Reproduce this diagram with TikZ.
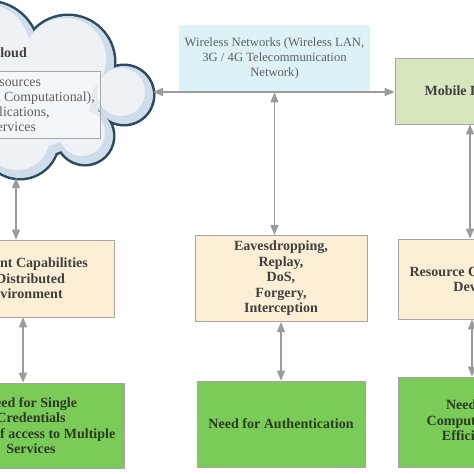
\documentclass[tikz,border=0pt]{standalone}
\usepackage{fontspec}
\setmainfont{Liberation Serif}
\usetikzlibrary{arrows.meta, positioning}
\definecolor{threatfill}{RGB}{252,239,213}
\definecolor{needfill}{RGB}{122,203,88}
\definecolor{devicefill}{RGB}{216,230,192}
\definecolor{netfill}{RGB}{221,242,247}
\definecolor{boxline}{RGB}{166,166,166}
\definecolor{linkgray}{RGB}{155,155,155}
\definecolor{cloudline}{RGB}{46,74,94}
\definecolor{cloudshade}{RGB}{206,221,233}
\definecolor{cloudfill}{RGB}{238,242,246}
\definecolor{boldtext}{RGB}{64,64,64}
\definecolor{needtext}{RGB}{44,60,36}
\definecolor{graytext}{RGB}{95,95,95}

\begin{document}
\begin{tikzpicture}[x=0.2mm, y=-0.2mm,
    threat/.style={draw=boxline, fill=threatfill, align=center, text=boldtext, font=\fontsize{8}{8.8}\selectfont\bfseries},
    need/.style={draw=boxline, fill=needfill, align=center, text=needtext, font=\fontsize{8}{8.8}\selectfont\bfseries},
    device/.style={draw=boxline, fill=devicefill, align=center, text=boldtext, font=\fontsize{8}{8.8}\selectfont\bfseries},
    network/.style={fill=netfill, align=center, text=graytext, font=\fontsize{7.2}{8.3}\selectfont},
    link/.style={{Triangle[length=2mm,width=1.6mm]}-{Triangle[length=2mm,width=1.6mm]}, draw=linkgray, line width=0.3mm}
]
    \useasboundingbox (0,0) rectangle (474,474);
    \clip (0,0) rectangle (474,474);

    % Cloud
    \foreach \cx/\cy/\r in {-12/52/50, 68/62/46, 124/95/29, 85/136/28, 20/140/38, -30/140/35, 40/95/60}
        \fill[cloudline] (\cx,\cy) circle[radius=\r+2.5];
    \foreach \cx/\cy/\r in {-12/52/50, 68/62/46, 124/95/29, 85/136/28, 20/140/38, -30/140/35, 40/95/60}
        \fill[cloudshade] (\cx,\cy) circle[radius=\r];
    \foreach \cx/\cy/\r in {-12/52/50, 68/62/46, 124/95/29, 85/136/28, 20/140/38, -30/140/35, 40/95/60}
        \fill[cloudfill] (\cx-3,\cy-3) circle[radius=\r-5];
    \node[text=boldtext, font=\fontsize{8}{8.8}\selectfont\bfseries] (cloudtitle) at (8.5,53) {Cloud};
    \node[draw=boxline, fill=white, fill opacity=0.4, text opacity=1, text=graytext, align=center,
        font=\fontsize{7.9}{8.7}\selectfont, minimum width=35mm, minimum height=13.4mm] (cloudtext) at (12.5,104.5)
        {Resources\\(Storage and Computational),\\Applications,\\Services};
    \coordinate (cloudE) at (153,92);
    \coordinate (cloudS) at (16,178);

    % Top row
    \node[network, minimum width=37mm, minimum height=13.4mm] (wireless) at (274.5,58.5)
        {Wireless Networks (Wireless LAN,\\3G / 4G Telecommunication\\Network)};
    \node[device, minimum width=30mm, minimum height=13.2mm] (mobile) at (470,91) {Mobile Devices};

    % Middle row
    \node[threat, minimum width=36.4mm, minimum height=15.4mm] (capability) at (23,278.5)
        {Different Capabilities\\in Distributed\\Environment};
    \node[threat, minimum width=34.4mm, minimum height=16.2mm] (attacks) at (281,278.5)
        {Eavesdropping,\\Replay,\\DoS,\\Forgery,\\Interception};
    \node[threat, minimum width=31.2mm, minimum height=16mm] (resource) at (476,279)
        {Resource Constrained\\Devices};

    % Bottom row
    \node[need, minimum width=37.2mm, minimum height=17mm] (singlecred) at (31,425.5)
        {Need for Single\\Credentials\\instead of access to Multiple\\Services};
    \node[need, minimum width=33.6mm, minimum height=17.2mm] (authneed) at (281,424)
        {Need for Authentication};
    \node[need, minimum width=29.6mm, minimum height=18mm] (efficiency) at (472,422)
        {Need for\\Computational\\Efficiency};

    % Connections
    \draw[link] (cloudE) -- (cloudE -| mobile.west);
    \draw[link] (wireless.south) -- (wireless.south |- attacks.north);
    \draw[link] (cloudS) -- (cloudS |- capability.north);
    \draw[link] (mobile.south) -- (mobile.south |- resource.north);
    \draw[link] (capability.south) -- (capability.south |- singlecred.north);
    \draw[link] (attacks.south) -- (authneed.north);
    \draw[link] (efficiency.north |- resource.south) -- (efficiency.north);
\end{tikzpicture}
\end{document}
